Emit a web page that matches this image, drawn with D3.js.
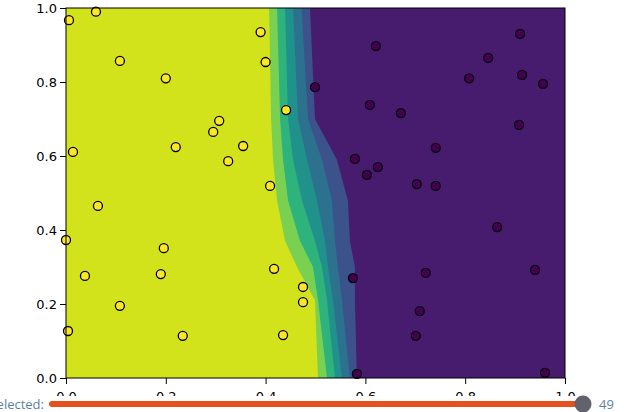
<!DOCTYPE html>
<html>
<head>
<meta charset="utf-8">
<script src="https://cdn.jsdelivr.net/npm/d3@7"></script>
<style>
  body { margin: 0; background: #fff; overflow: hidden; }
  .tick text { font-family: "DejaVu Sans", sans-serif; font-size: 13px; fill: #000; }
</style>
</head>
<body>
<div class="chart"></div>
<script>
// band edges: x position of each contour boundary at given y
var edgeY = [1.0, 0.70, 0.59, 0.48, 0.37, 0.30, 0.21, 0.0];
var edgeX = [
  [0.407, 0.411, 0.415, 0.423, 0.439, 0.463, 0.499, 0.505],
  [0.423, 0.429, 0.435, 0.445, 0.469, 0.495, 0.505, 0.523],
  [0.439, 0.445, 0.455, 0.473, 0.499, 0.513, 0.523, 0.539],
  [0.455, 0.465, 0.483, 0.503, 0.519, 0.525, 0.535, 0.553],
  [0.472, 0.485, 0.513, 0.533, 0.539, 0.545, 0.553, 0.569],
  [0.489, 0.499, 0.543, 0.565, 0.569, 0.579, 0.579, 0.583]
];
var bandColors = ["#d2e21b", "#7ad151", "#2eb37c", "#21918c", "#2c728e", "#3b528b", "#471b6e"];

var yellowX = [0.006, 0.06, 0.108, 0.2, 0.39, 0.4, 0.441, 0.307, 0.295, 0.014, 0.22, 0.355, 0.325, 0.409, 0.064, 0.0, 0.196, 0.038, 0.19, 0.417, 0.475, 0.475, 0.108, 0.004, 0.234, 0.435];
var yellowY = [0.967, 0.99, 0.857, 0.81, 0.935, 0.854, 0.724, 0.695, 0.665, 0.611, 0.624, 0.627, 0.586, 0.519, 0.465, 0.373, 0.351, 0.276, 0.281, 0.295, 0.246, 0.205, 0.195, 0.127, 0.114, 0.116];
var purpleX = [0.499, 0.621, 0.846, 0.91, 0.808, 0.914, 0.956, 0.609, 0.671, 0.908, 0.579, 0.625, 0.603, 0.741, 0.703, 0.741, 0.864, 0.575, 0.721, 0.94, 0.709, 0.701, 0.583, 0.96];
var purpleY = [0.786, 0.897, 0.865, 0.93, 0.81, 0.819, 0.795, 0.738, 0.716, 0.684, 0.592, 0.57, 0.549, 0.622, 0.524, 0.519, 0.408, 0.27, 0.284, 0.292, 0.181, 0.114, 0.011, 0.014];

var ticks = [0.0, 0.2, 0.4, 0.6, 0.8, 1.0];
var sliderLabel = "Selected:";
var sliderValue = 49;

var svgWidth = 624, svgHeight = 412;
var margin = { top: 8, left: 66, right: 59, bottom: 34 };
var width = svgWidth - margin.left - margin.right;
var height = svgHeight - margin.top - margin.bottom;

var svg = d3.select(".chart").append("svg")
  .attr("width", svgWidth).attr("height", svgHeight);

var g = svg.append("g").attr("transform", `translate(${margin.left}, ${margin.top})`);

var x = d3.scaleLinear().domain([0, 1]).range([0, width]);
var y = d3.scaleLinear().domain([0, 1]).range([height, 0]);

g.append("clipPath").attr("id", "clip").append("rect").attr("width", width).attr("height", height);
var plot = g.append("g").attr("clip-path", "url(#clip)");

// background = last (purple) band, then draw each band's left region from right to left
plot.append("rect").attr("width", width).attr("height", height).attr("fill", bandColors[6]);
for (var i = edgeX.length - 1; i >= 0; i--) {
  var pts = [[0, 1]];
  edgeY.forEach(function (yy, j) { pts.push([edgeX[i][j], yy]); });
  pts.push([0, 0]);
  plot.append("path")
    .attr("d", d3.line().x(d => x(d[0])).y(d => y(d[1]))(pts) + "Z")
    .attr("fill", bandColors[i]);
}

function dots(xs, ys, fill) {
  g.selectAll(null).data(xs).enter().append("circle")
    .attr("cx", (d, i) => x(d)).attr("cy", (d, i) => y(ys[i]))
    .attr("r", 4.5).attr("fill", fill).attr("stroke", "#000").attr("stroke-width", 1.3);
}
dots(yellowX, yellowY, "#fde725");
dots(purpleX, purpleY, "#440154");

g.append("rect").attr("width", width).attr("height", height)
  .attr("fill", "none").attr("stroke", "#000").attr("stroke-width", 1);

g.append("g").attr("transform", `translate(0, ${height})`)
  .call(d3.axisBottom(x).tickValues(ticks).tickFormat(d3.format(".1f")).tickSizeOuter(0).tickPadding(8))
  .select(".domain").remove();
g.append("g")
  .call(d3.axisLeft(y).tickValues(ticks).tickFormat(d3.format(".1f")).tickSizeOuter(0))
  .select(".domain").remove();

// slider widget overlapping the bottom
svg.append("rect").attr("x", 0).attr("y", 396).attr("width", svgWidth).attr("height", 16).attr("fill", "#fff");
svg.append("text").attr("x", 44).attr("y", 409).attr("text-anchor", "end")
  .attr("font-family", "Open Sans, sans-serif").attr("font-size", 13).attr("fill", "#5b7fa8")
  .text(sliderLabel);
svg.append("line").attr("x1", 52).attr("x2", 582).attr("y1", 404).attr("y2", 404)
  .attr("stroke", "#e6501e").attr("stroke-width", 6).attr("stroke-linecap", "round");
svg.append("circle").attr("cx", 583).attr("cy", 404).attr("r", 8.5).attr("fill", "#62626e");
svg.append("text").attr("x", 599).attr("y", 409)
  .attr("font-family", "Open Sans, sans-serif").attr("font-size", 13).attr("fill", "#5b7fa8")
  .text(sliderValue);
</script>
</body>
</html>
